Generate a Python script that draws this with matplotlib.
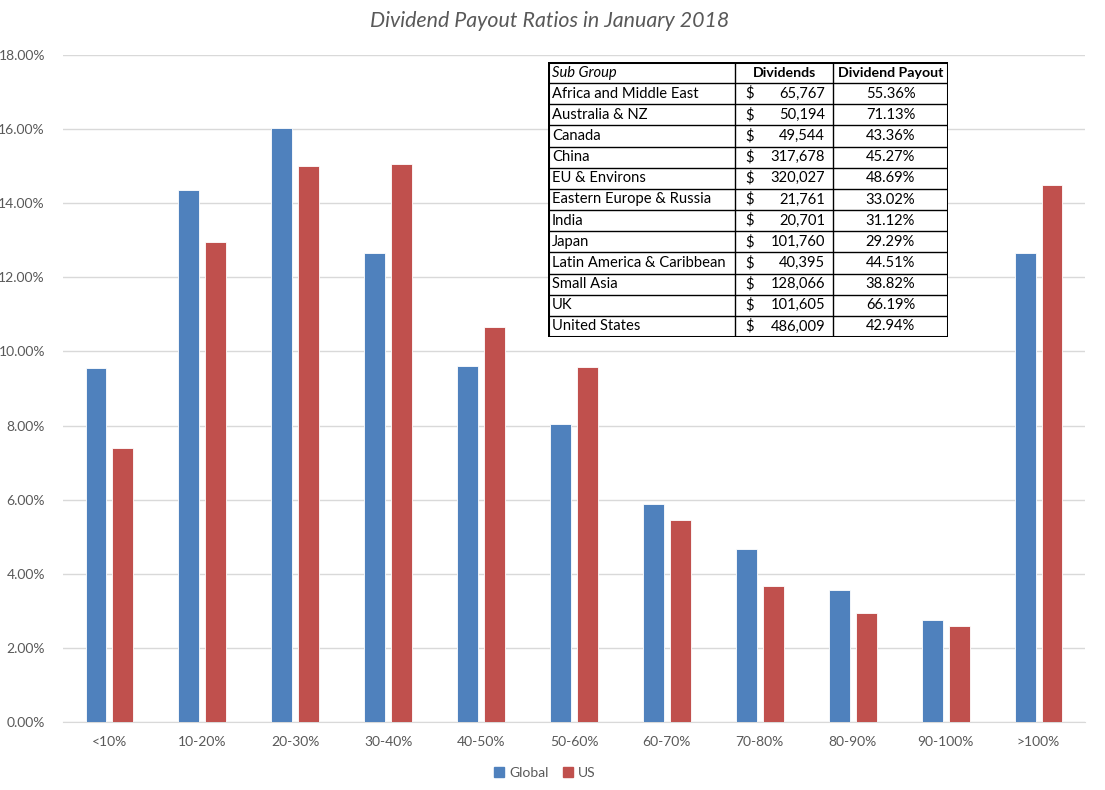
import matplotlib
matplotlib.use("Agg")
import matplotlib.pyplot as plt
from matplotlib.patches import Patch
import numpy as np

plt.rcParams['font.family'] = ['Lato', 'DejaVu Sans']

categories = ["<10%", "10-20%", "20-30%", "30-40%", "40-50%", "50-60%",
              "60-70%", "70-80%", "80-90%", "90-100%", ">100%"]
global_vals = [9.55, 14.36, 16.03, 12.65, 9.61, 8.05, 5.88, 4.67, 3.57, 2.76, 12.65]
us_vals = [7.40, 12.95, 15.01, 15.06, 10.66, 9.58, 5.46, 3.68, 2.95, 2.60, 14.49]

table_groups = ["Africa and Middle East", "Australia & NZ", "Canada", "China",
                "EU & Environs", "Eastern Europe & Russia", "India", "Japan",
                "Latin America & Caribbean", "Small Asia", "UK", "United States"]
table_dividends = ["65,767", "50,194", "49,544", "317,678", "320,027", "21,761",
                   "20,701", "101,760", "40,395", "128,066", "101,605", "486,009"]
table_payout = ["55.36%", "71.13%", "43.36%", "45.27%", "48.69%", "33.02%",
                "31.12%", "29.29%", "44.51%", "38.82%", "66.19%", "42.94%"]

W, H = 1105, 790
fig = plt.figure(figsize=(W / 100, H / 100), dpi=100)

ax = fig.add_axes([63 / W, 1 - 722 / H, (1085 - 63) / W, (722 - 55) / H])
x = np.arange(len(categories))
bw = 0.225
off = 0.145
blue = "#4F81BD"
red = "#C0504D"
ax.bar(x - off, np.array(global_vals) / 100, bw, color=blue, edgecolor="white", linewidth=0.6, zorder=3)
ax.bar(x + off, np.array(us_vals) / 100, bw, color=red, edgecolor="white", linewidth=0.6, zorder=3)
ax.set_xlim(-0.5, len(categories) - 0.5)
ax.set_ylim(0, 0.18)
ax.set_yticks(np.arange(0, 0.1801, 0.02))
ax.set_yticklabels([f"{v*100:.2f}%" for v in np.arange(0, 0.1801, 0.02)])
ax.set_xticks(x)
ax.set_xticklabels(categories)
ax.tick_params(axis="both", length=0, colors="#595959", labelsize=10)
ax.tick_params(axis="x", pad=10)
ax.tick_params(axis="y", pad=13)
ax.grid(axis="y", color="#D9D9D9", linewidth=1, zorder=0)
for s in ["top", "right", "left"]:
    ax.spines[s].set_visible(False)
ax.spines["bottom"].set_color("#D9D9D9")
ax.set_axisbelow(True)

fig.text(550 / W, 1 - 21 / H, "Dividend Payout Ratios in January 2018", ha="center", va="center",
         fontsize=15.4, style="italic", color="#595959")

handles = [Patch(color=blue, label="Global"), Patch(color=red, label="US")]
fig.legend(handles=handles, loc="center", bbox_to_anchor=(545 / W, 1 - 773 / H), ncol=2,
           frameon=False, fontsize=10, labelcolor="#595959", handlelength=0.7, handleheight=0.7,
           handletextpad=0.4, columnspacing=1.0)

# Table
tx0, tx1 = 548, 948
ty0, ty1 = 62, 337
tax = fig.add_axes([tx0 / W, 1 - ty1 / H, (tx1 - tx0) / W, (ty1 - ty0) / H])
tax.set_xlim(0, tx1 - tx0)
tax.set_ylim(ty1 - ty0, 0)
tax.axis("off")
tax.add_patch(plt.Rectangle((0, 0), tx1 - tx0, ty1 - ty0, facecolor="white", edgecolor="none", zorder=0))
nrows = len(table_groups) + 1
rh = (ty1 - ty0) / nrows
c1, c2 = 735 - tx0, 833 - tx0
for i in range(1, nrows):
    tax.plot([0, tx1 - tx0], [i * rh, i * rh], color="black", linewidth=1.0)
for cx in [c1, c2]:
    tax.plot([cx, cx], [0, ty1 - ty0], color="black", linewidth=1.0)
tax.plot([0, tx1 - tx0, tx1 - tx0, 0, 0], [0, 0, ty1 - ty0, ty1 - ty0, 0], color="black", linewidth=2.2)
fs = 10.6
tax.text(4, rh / 2, "Sub Group", ha="left", va="center", fontsize=fs, style="italic")
tax.text((c1 + c2) / 2, rh / 2, "Dividends", ha="center", va="center", fontsize=10.2, weight="bold")
tax.text((c2 + tx1 - tx0) / 2, rh / 2, "Dividend Payout", ha="center", va="center", fontsize=10.2, weight="bold")
for i, (g, d, p) in enumerate(zip(table_groups, table_dividends, table_payout)):
    yc = (i + 1.5) * rh
    tax.text(4, yc, g, ha="left", va="center", fontsize=fs)
    tax.text(c1 + 10, yc, "$", ha="left", va="center", fontsize=fs)
    tax.text(c2 - 8, yc, d, ha="right", va="center", fontsize=fs)
    tax.text((c2 + tx1 - tx0) / 2, yc, p, ha="center", va="center", fontsize=fs)

fig.savefig("out.png", dpi=100, facecolor="white")
